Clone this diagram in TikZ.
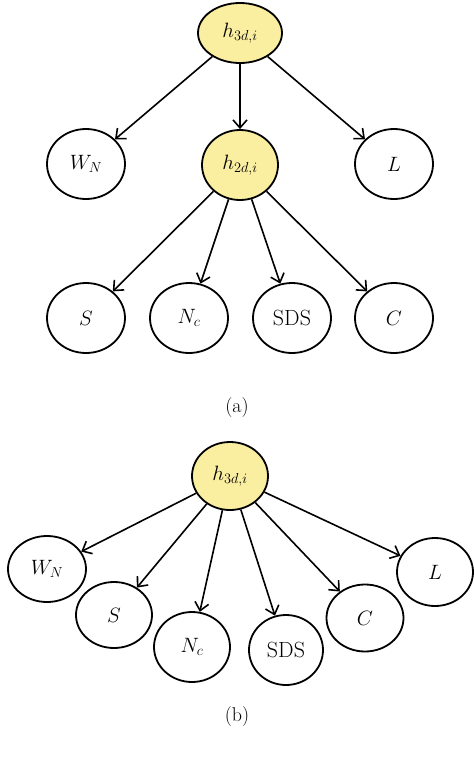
\documentclass[tikz,border=0pt]{standalone}
\usetikzlibrary{shapes.geometric,arrows.meta}
\definecolor{nodeyellow}{RGB}{250,238,160}
\begin{document}
\begin{tikzpicture}[x=1pt,y=-1pt,
  bubble/.style={draw=black,ellipse,line width=1.8pt,inner sep=0pt,
     minimum width=78pt,minimum height=70pt,fill=white,font=\fontsize{22}{24}\selectfont},
  hid/.style={bubble,fill=nodeyellow},
  edge/.style={line width=1.6pt,-{Straight Barb[length=8pt,width=14pt,line width=1.6pt]}},
  captext/.style={font=\fontsize{20}{22}\selectfont}]
\useasboundingbox (0,0) rectangle (474,758);
% panel (a)
\node[hid,minimum width=84pt,minimum height=60pt] (a3) at (240,33) {$h_{3d,i}$};
\node[bubble] (aw) at (86,164) {$W_N$};
\node[hid,minimum width=76pt] (a2) at (240,165) {$h_{2d,i}$};
\node[bubble] (al) at (394,164) {$L$};
\node[bubble] (as) at (86,318) {$S$};
\node[bubble] (an) at (189,318) {$N_c$};
\node[bubble] (ad) at (292,318) {SDS};
\node[bubble] (ac) at (394,318) {$C$};
\node[captext] (capa) at (237,408) {(a)};
\draw[edge] (a3) -- (aw);
\draw[edge] (a3) -- (a2);
\draw[edge] (a3) -- (al);
\draw[edge] (a2) -- (as);
\draw[edge] (a2) -- (an);
\draw[edge] (a2) -- (ad);
\draw[edge] (a2) -- (ac);
% panel (b)
\node[hid,minimum width=76pt,minimum height=68pt] (b3) at (230,476) {$h_{3d,i}$};
\node[bubble,minimum height=66pt] (bw) at (47,569) {$W_N$};
\node[bubble,minimum width=76pt,minimum height=66pt] (bs) at (114,615) {$S$};
\node[bubble,minimum width=76pt] (bn) at (192,647) {$N_c$};
\node[bubble,minimum width=74pt] (bd) at (286,650) {SDS};
\node[bubble,minimum width=77pt,minimum height=67pt] (bc) at (365,618) {$C$};
\node[bubble,minimum width=76pt,minimum height=68pt] (bl) at (435,572) {$L$};
\node[captext] (capb) at (237,717) {(b)};
\draw[edge] (b3) -- (bw);
\draw[edge] (b3) -- (bs);
\draw[edge] (b3) -- (bn);
\draw[edge] (b3) -- (bd);
\draw[edge] (b3) -- (bc);
\draw[edge] (b3) -- (bl);
\end{tikzpicture}
\end{document}
